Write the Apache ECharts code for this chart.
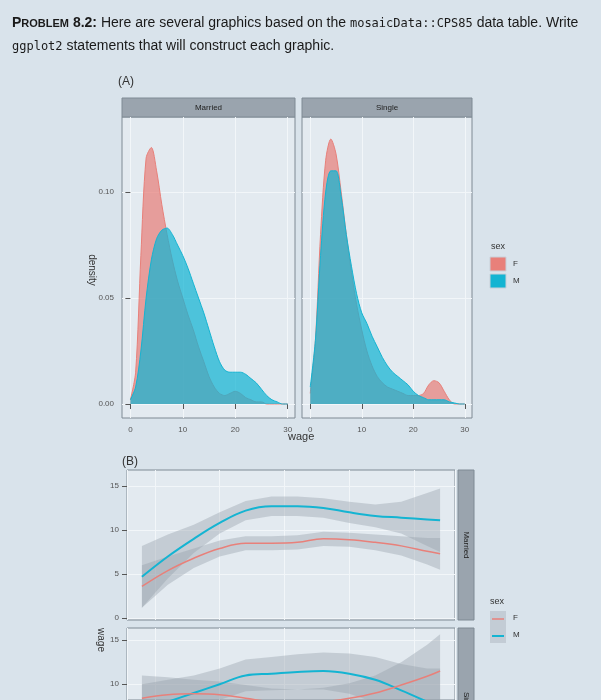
<!DOCTYPE html><html><head><meta charset="utf-8">
<script src="https://cdn.jsdelivr.net/npm/echarts@6/dist/echarts.min.js"></script>
<style>html,body{margin:0;background:#d9e3eb}#c{width:601px;height:700px}</style></head><body><div id="c"></div>
<script>
const wages = [0,1,2,3,4,5,6,7,8,9,10,11,12,13,14,15,16,17,18,19,20,21,22,23,24,25,26,27,28,29,30];
const marriedF = [0.002,0.015,0.07,0.116,0.121,0.11,0.094,0.08,0.068,0.058,0.05,0.042,0.035,0.027,0.02,0.013,0.008,0.005,0.004,0.005,0.006,0.005,0.003,0.002,0.001,0.001,0,0,0,0,0];
const marriedM = [0.002,0.008,0.025,0.05,0.068,0.078,0.082,0.083,0.08,0.075,0.07,0.064,0.057,0.05,0.043,0.035,0.027,0.02,0.016,0.015,0.015,0.015,0.014,0.012,0.01,0.007,0.004,0.002,0.001,0,0];
const singleF = [0.005,0.03,0.08,0.115,0.125,0.118,0.1,0.08,0.062,0.047,0.035,0.025,0.018,0.013,0.01,0.008,0.007,0.006,0.005,0.004,0.004,0.004,0.005,0.009,0.011,0.01,0.006,0.002,0,0,0];
const singleM = [0.008,0.03,0.07,0.1,0.11,0.11,0.098,0.08,0.065,0.052,0.043,0.038,0.032,0.027,0.022,0.018,0.015,0.013,0.011,0.009,0.006,0.004,0.003,0.002,0.002,0.002,0.002,0.001,0.0005,0,0];
const ages = [18,22,26,30,34,38,42,46,50,54,58,62,64];
const mMarried = [4.7,7.0,9.0,10.8,12.2,12.7,12.7,12.5,12.0,11.6,11.4,11.2,11.1];
const mMarriedSe = [3.5,2.5,1.6,1.2,1.1,1.1,1.1,1.1,1.2,1.3,1.8,3.0,3.6];
const fMarried = [3.6,5.4,6.8,7.9,8.5,8.5,8.6,9.0,8.9,8.6,8.2,7.6,7.3];
const fMarriedSe = [2.4,1.6,1.1,0.9,0.8,0.8,0.8,0.8,0.8,0.9,1.1,1.5,1.8];
const mSingle = [7.0,8.0,9.0,10.0,11.0,11.2,11.4,11.5,11.2,10.5,9.3,8.0,7.3];
const mSingleSe = [3.0,2.5,2.0,1.8,1.8,1.9,2.0,2.1,2.3,2.6,3.0,3.8,4.5];
const fSingle = [8.4,8.8,8.9,8.8,8.4,8.0,7.9,8.0,8.4,9.0,9.9,10.9,11.5];
const fSingleSe = [2.6,2.0,1.6,1.5,1.5,1.5,1.5,1.6,1.7,2.0,2.6,3.6,4.2];
const densTicks = [0,0.05,0.10];
const wageTicks = [0,5,10,15];

const PINK='#e8807a', TEAL='#14b4d2';
const pair=(xs,ys)=>xs.map((x,i)=>[x,ys[i]]);
const panelBg={show:true,backgroundColor:'#e3eaf0',borderColor:'#7f8a94',borderWidth:1};
const grids=[
 Object.assign({left:122,top:117,width:173,height:301},panelBg),
 Object.assign({left:302,top:117,width:170,height:301},panelBg),
 Object.assign({left:127,top:470,width:328,height:150},panelBg),
 Object.assign({left:127,top:628,width:328,height:72},panelBg)
];
const split={show:true,lineStyle:{color:'#f2f6f9',width:1}};
const lab={color:'#555',fontSize:8,fontFamily:'Liberation Sans'};
function xA(i){return {type:'value',gridIndex:i,min:-1.6,max:31.4,splitLine:split,
 axisLine:{show:false},axisTick:{show:true,customValues:[0,10,20,30],lineStyle:{color:'#555'}},
 axisLabel:Object.assign({customValues:[0,10,20,30]},lab)};}
function yA(i,show){return {type:'value',gridIndex:i,min:-0.0066,max:0.1354,splitLine:split,
 axisLine:{show:false},axisTick:{show:show,customValues:densTicks,lineStyle:{color:'#555'}},
 axisLabel:Object.assign({show:show,customValues:densTicks,formatter:v=>v.toFixed(2)},lab)};}
function xB(i){return {type:'value',gridIndex:i,min:15.7,max:66.3,splitLine:split,axisLine:{show:false},axisTick:{show:false},axisLabel:{show:false}};}
function yB(i,min,max,ticks){return {type:'value',gridIndex:i,min:min,max:max,splitLine:split,axisLine:{show:false},
 axisTick:{show:true,customValues:ticks,lineStyle:{color:'#555'}},axisLabel:Object.assign({customValues:ticks},lab)};}
function dens(name,xi,ys,col){return {type:'line',name:name,xAxisIndex:xi,yAxisIndex:xi,data:pair(wages,ys),smooth:0.3,symbol:'none',
 lineStyle:{color:col,width:1},areaStyle:{color:col,opacity:0.72},z:name==='M'?3:2};}
const series=[dens('F',0,marriedF,PINK),dens('M',0,marriedM,TEAL),dens('F',1,singleF,PINK),dens('M',1,singleM,TEAL)];
function smoothS(gi,fit,se,col){
 const data=ages.map((a,i)=>[a,fit[i]-se[i],fit[i]+se[i]]);
 series.push({type:'custom',xAxisIndex:gi,yAxisIndex:gi,data:data,silent:true,z:1,
  renderItem:function(params,api){
   if(params.dataIndex!==0) return null;
   const up=[],lo=[];
   data.forEach(d=>{up.push(api.coord([d[0],d[2]]));lo.push(api.coord([d[0],d[1]]));});
   return {type:'polygon',shape:{points:up.concat(lo.reverse())},style:{fill:'rgba(150,160,170,0.4)'}};
  }});
 series.push({type:'line',xAxisIndex:gi,yAxisIndex:gi,data:pair(ages,fit),smooth:0.4,symbol:'none',lineStyle:{color:col,width:col===TEAL?2:1.5},z:4});
}
smoothS(2,mMarried,mMarriedSe,TEAL);smoothS(2,fMarried,fMarriedSe,PINK);
smoothS(3,mSingle,mSingleSe,TEAL);smoothS(3,fSingle,fSingleSe,PINK);

const txt=(l,t,s,o)=>({type:'text',left:l,top:t,style:Object.assign({text:s,fill:'#333',font:'10px Liberation Sans'},o||{})});
const strip=(x,y,w,h,s,rot)=>({type:'group',children:[
 {type:'rect',shape:{x:x,y:y,width:w,height:h},style:{fill:'#9aa4ae',stroke:'#7f8a94'}},
 {type:'text',x:x+w/2,y:y+h/2,rotation:rot||0,style:{text:s,fill:'#222',font:'8px Liberation Sans',align:'center',verticalAlign:'middle'}}]});
const graphic=[
 {type:'text',left:12,top:12,style:{rich:{b:{font:'bold 14px Liberation Sans',fill:'#1a1a1a'},s:{font:'bold 11px Liberation Sans',fill:'#1a1a1a'},m:{font:'12px DejaVu Sans Mono',fill:'#1a1a1a'},n:{font:'14px Liberation Sans',fill:'#1a1a1a'}},
  text:'{b|P}{s|ROBLEM}{b| 8.2:}{n| Here are several graphics based on the }{m|mosaicData::CPS85}{n| data table. Write}\n{m|ggplot2}{n| statements that will construct each graphic.}',lineHeight:23}},
 txt(118,76,'(A)',{font:'12px Liberation Sans'}),
 txt(122,456,'(B)',{font:'12px Liberation Sans'}),
 strip(122,98,173,19,'Married'),strip(302,98,170,19,'Single'),
 strip(458,470,16,150,'Married',-Math.PI/2),strip(458,628,16,150,'Single',-Math.PI/2),
 {type:'text',x:92,y:270,rotation:-Math.PI/2,style:{text:'density',fill:'#333',font:'10px Liberation Sans',align:'center',verticalAlign:'middle'}},
 {type:'text',x:101,y:640,rotation:-Math.PI/2,style:{text:'wage',fill:'#333',font:'10px Liberation Sans',align:'center',verticalAlign:'middle'}},
 txt(288,431,'wage',{font:'11px Liberation Sans'}),
 txt(491,242,'sex',{font:'9px Liberation Sans'}),
 {type:'rect',shape:{x:490,y:257,width:16,height:14},style:{fill:PINK,stroke:'#c8d0d8'}},
 {type:'rect',shape:{x:490,y:274,width:16,height:14},style:{fill:TEAL,stroke:'#c8d0d8'}},
 txt(513,260,'F',{font:'8px Liberation Sans'}),txt(513,277,'M',{font:'8px Liberation Sans'}),
 txt(490,597,'sex',{font:'9px Liberation Sans'}),
 {type:'rect',shape:{x:490,y:611,width:16,height:32},style:{fill:'#c3ccd5'}},
 {type:'line',shape:{x1:492,y1:619,x2:504,y2:619},style:{stroke:PINK,lineWidth:1.5}},
 {type:'line',shape:{x1:492,y1:636,x2:504,y2:636},style:{stroke:TEAL,lineWidth:2}},
 txt(513,614,'F',{font:'8px Liberation Sans'}),txt(513,631,'M',{font:'8px Liberation Sans'})
];
const chart=echarts.init(document.getElementById('c'));
chart.setOption({animation:false,backgroundColor:'#d9e3eb',grid:grids,
 xAxis:[xA(0),xA(1),xB(2),xB(3)],
 yAxis:[yA(0,true),yA(1,false),yB(2,-0.2,16.8,wageTicks),yB(3,8.2,16.4,[10,15])],
 series:series,graphic:graphic});
</script></body></html>
